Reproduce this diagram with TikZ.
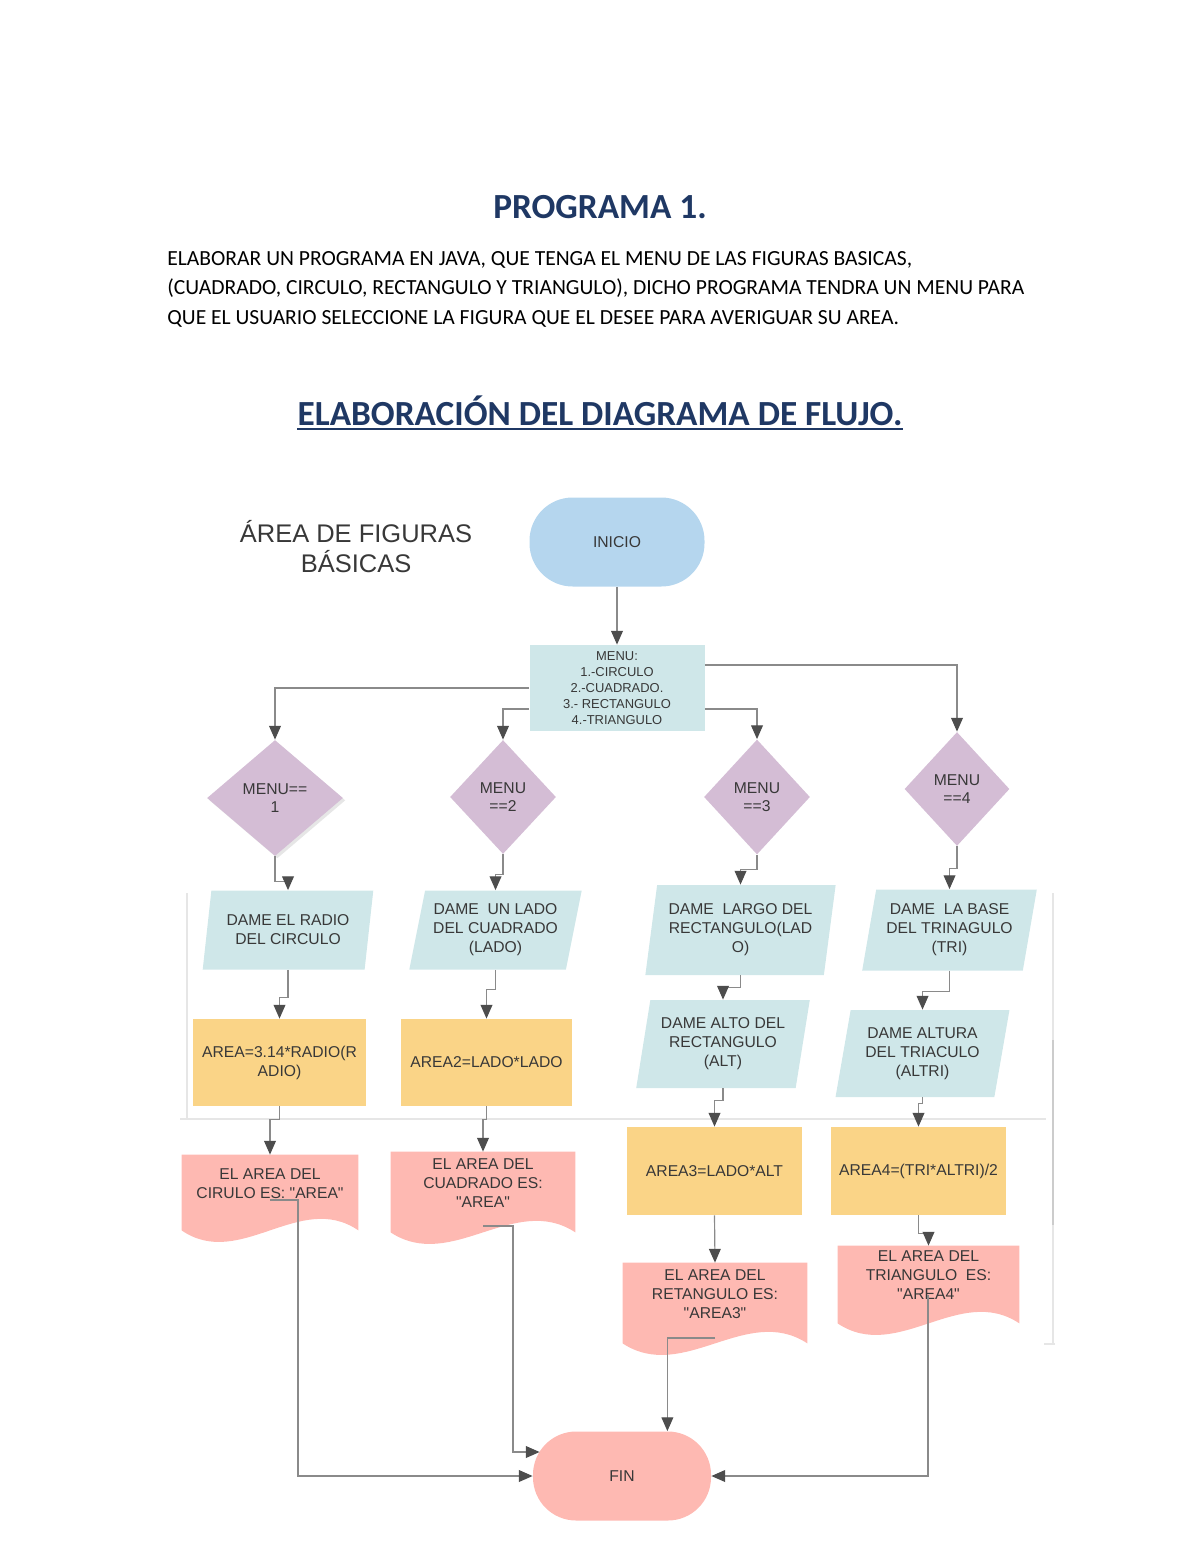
\documentclass[tikz,border=0pt]{standalone}
\usepackage{fontspec}
\setmainfont{Carlito}
\newfontfamily\arialf{Liberation Sans}
\usetikzlibrary{shapes.geometric,arrows.meta,calc,shadows}
\definecolor{navy}{HTML}{1F3864}
\definecolor{txt}{HTML}{383838}
\definecolor{lineg}{HTML}{8A8A8A}
\definecolor{arrowc}{HTML}{4D4D4D}
\definecolor{inicioc}{HTML}{B5D6EE}
\definecolor{inpc}{HTML}{CFE7E9}
\definecolor{decc}{HTML}{D4BDD5}
\definecolor{procc}{HTML}{FAD487}
\definecolor{docc}{HTML}{FEB9B2}
\definecolor{framec}{HTML}{E6E6E6}
\pgfdeclarelayer{bg}
\pgfsetlayers{bg,main}
\newcommand\docfill[1]{%
  \begin{pgfonlayer}{bg}
  \fill[docc] (#1.north west) -- (#1.north east) -- ($(#1.south east)+(0,18)$)
    .. controls ($(#1.south east)!0.33!(#1.south west)+(0,-22)$) and ($(#1.south east)!0.67!(#1.south west)+(0,58)$) ..
    ($(#1.south west)+(0,18)$) -- cycle;
  \end{pgfonlayer}}
\tikzset{
  every node/.style={font=\arialf\fontsize{8}{9.7}\selectfont, text=txt, align=center, inner sep=0pt},
  term/.style={rectangle, rounded corners=22pt, fill=#1, minimum width=175*0.51pt, minimum height=89*0.51pt},
  menubox/.style={rectangle, fill=inpc, font=\arialf\fontsize{6.6}{8.2}\selectfont},
  dec/.style={diamond, fill=decc, font=\arialf\fontsize{8}{9.4}\selectfont},
  inp/.style={trapezium, trapezium stretches=true, trapezium left angle=77, trapezium right angle=103, fill=inpc},
  proc/.style={rectangle, fill=procc, minimum width=174*0.51pt, minimum height=87*0.51pt},
  docn/.style={rectangle},
  conn/.style={draw=lineg, line width=0.6pt},
  arr/.style={conn, -{Triangle[length=7pt,width=6pt,fill=arrowc,color=arrowc]}},
  hdr/.style={font=\fontsize{18}{22}\selectfont\bfseries, text=navy},
  body/.style={font=\fontsize{11}{13}\selectfont, text=black, anchor=base west},
}
\begin{document}
\begin{tikzpicture}[x=0.51pt,y=-0.51pt]
\useasboundingbox (0,0) rectangle (1200,1553);

% header texts
\node[hdr, anchor=base] (t1) at (600,219) {PROGRAMA 1.};
\node[body] (b1) at (167,266) {ELABORAR UN PROGRAMA EN JAVA, QUE TENGA EL MENU DE LAS FIGURAS BASICAS,};
\node[body] (b2) at (167,294) {(CUADRADO, CIRCULO, RECTANGULO Y TRIANGULO), DICHO PROGRAMA TENDRA UN MENU PARA};
\node[body] (b3) at (167,324) {QUE EL USUARIO SELECCIONE LA FIGURA QUE EL DESEE PARA AVERIGUAR SU AREA.};
\node[hdr, anchor=base] (t2) at (600,425) {ELABORACIÓN DEL DIAGRAMA DE FLUJO.};
\draw[navy, line width=1.1pt] ($(t2.base west)+(0,4)$) -- ($(t2.base east)+(0,4)$);

% frame lines
\draw[framec, line width=1pt] (187,893) -- (187,1120);
\draw[framec, line width=1pt] (180,1119) -- (1046,1119);
\draw[framec, line width=1pt] (1053,893) -- (1053,1345);
\draw[black!20, line width=1pt] (1053,1040) -- (1053,1225);
\draw[framec, line width=1pt] (1044,1344) -- (1055,1344);

% diagram title
\node[font=\arialf\fontsize{13}{14.8}\selectfont, anchor=base] (ttl) at (356,572) {ÁREA DE FIGURAS\\BÁSICAS};

% nodes
\node[term=inicioc] (inicio) at (617,542) {INICIO};
\node[menubox, minimum width=175*0.51pt, minimum height=86*0.51pt] (menu) at (617,688)
  {MENU:\\1.-CIRCULO\\2.-CUADRADO.\\3.- RECTANGULO\\4.-TRIANGULO};

\node[dec, minimum width=136*0.51pt, minimum height=116*0.51pt,
      drop shadow={shadow xshift=1.2pt, shadow yshift=-1.2pt, opacity=0.2}] (d1) at (275,798) {MENU==\\1};
\node[dec, minimum width=106*0.51pt, minimum height=114*0.51pt] (d2) at (503,797) {MENU\\==2};
\node[dec, minimum width=106*0.51pt, minimum height=115*0.51pt] (d3) at (757,797) {MENU\\==3};
\node[dec, minimum width=105*0.51pt, minimum height=114*0.51pt] (d4) at (957,789) {MENU\\==4};

\node[inp, minimum width=171*0.51pt, minimum height=79*0.51pt] (p1) at (288,930) {DAME EL RADIO\\DEL CIRCULO};
\node[inp, trapezium left angle=75, trapezium right angle=105, minimum width=173*0.51pt, minimum height=79*0.51pt] (p2) at (495.5,930) {DAME \ UN LADO\\DEL CUADRADO\\(LADO)};
\node[inp, trapezium left angle=79, trapezium right angle=101, minimum width=191*0.51pt, minimum height=90*0.51pt] (p3) at (740.5,930) {DAME \ LARGO DEL\\RECTANGULO(LAD\\O)};
\node[inp, minimum width=175*0.51pt, minimum height=81*0.51pt] (p4) at (949.5,930) {DAME \ LA BASE\\DEL TRINAGULO\\(TRI)};

\node[proc, minimum width=173*0.51pt] (r1) at (279.5,1062.5) {AREA=3.14*RADIO(R\\ADIO)};
\node[proc, minimum width=171*0.51pt] (r2) at (486.5,1062.5) {AREA2=LADO*LADO};
\node[inp, minimum width=174*0.51pt, minimum height=88*0.51pt] (p5) at (723,1044) {DAME ALTO DEL\\RECTANGULO\\(ALT)};
\node[inp, minimum width=175*0.51pt, minimum height=87*0.51pt] (p6) at (922.5,1053.5) {DAME ALTURA\\DEL TRIACULO\\(ALTRI)};

\node[proc, minimum width=175*0.51pt, minimum height=88*0.51pt] (r3) at (714.5,1171) {AREA3=LADO*ALT};
\node[proc, minimum width=175*0.51pt, minimum height=88*0.51pt] (r4) at (918.5,1171) {AREA4=(TRI*ALTRI)/2};

\node[docn, minimum width=176*0.51pt, minimum height=57*0.51pt] (doc1) at (270,1183.5) {EL AREA DEL\\CIRULO ES: "AREA"};
\node[docn, minimum width=184*0.51pt, minimum height=62*0.51pt] (doc2) at (483,1183) {EL AREA DEL\\CUADRADO ES:\\"AREA"};
\node[docn, minimum width=184*0.51pt, minimum height=62*0.51pt] (doc3) at (715,1294) {EL AREA DEL\\RETANGULO ES:\\"AREA3"};
\node[docn, minimum width=181*0.51pt, minimum height=59*0.51pt] (doc4) at (928.5,1275.5) {EL AREA DEL\\TRIANGULO \ ES:\\"AREA4"};
\docfill{doc1}
\docfill{doc2}
\docfill{doc3}
\docfill{doc4}

\node[term=docc, minimum width=178*0.51pt] (fin) at (622,1476) {FIN};

% connectors
\draw[arr] (inicio) -- (menu);
\draw[arr] (menu.west) -| (d1.north);
\draw[arr] ($(menu.west)+(0,21)$) -| (d2.north);
\draw[arr] ($(menu.east)+(0,21)$) -| (d3.north);
\draw[arr] ($(menu.east)+(0,-23)$) -| (d4.north);

\draw[arr] (d1.south) -- ++(0,25) -| (p1.north);
\draw[arr] (d2.south) -- ++(0,20) -| (p2.north);
\draw[arr] (d3.south) -- ++(0,15) -| (p3.north);
\draw[arr] (d4.south) -- ++(0,22) -| (p4.north);

\draw[arr] (p1.south) -- ++(0,28) -| (r1.north);
\draw[arr] (p2.south) -- ++(0,20) -| (r2.north);
\draw[arr] (p3.south) -- ++(0,12) -| (p5.north);
\draw[arr] (p4.south) -- ++(0,21) -| (p6.north);

\draw[arr] (r1.south) -- ++(0,13) -| (doc1.north);
\draw[arr] (r2.south) -- ++(0,13) -| (doc2.north);
\draw[arr] (p5.south) -- ++(0,12) -| (r3.north);
\draw[arr] (p6.south) -- ++(0,6) -| (r4.north);
\draw[arr] (r3.south) -- (doc3.north);
\draw[arr] (r4.south) -- ++(0,18) -| (doc4.north);

\coordinate (c1) at (270,1200);
\coordinate (c2) at (483,1226);
\coordinate (c3) at (715,1338);
\coordinate (c4) at (928,1295);
\draw[arr] (c1) -- ++(28,0) |- (fin.west);
\draw[arr] (c2) -- ++(30,0) |- ($(fin.west)+(7,-24)$);
\draw[arr] (c3) -| ($(fin.north east)+(-44,0)$);
\draw[arr] (c4) |- (fin.east);
\end{tikzpicture}
\end{document}
